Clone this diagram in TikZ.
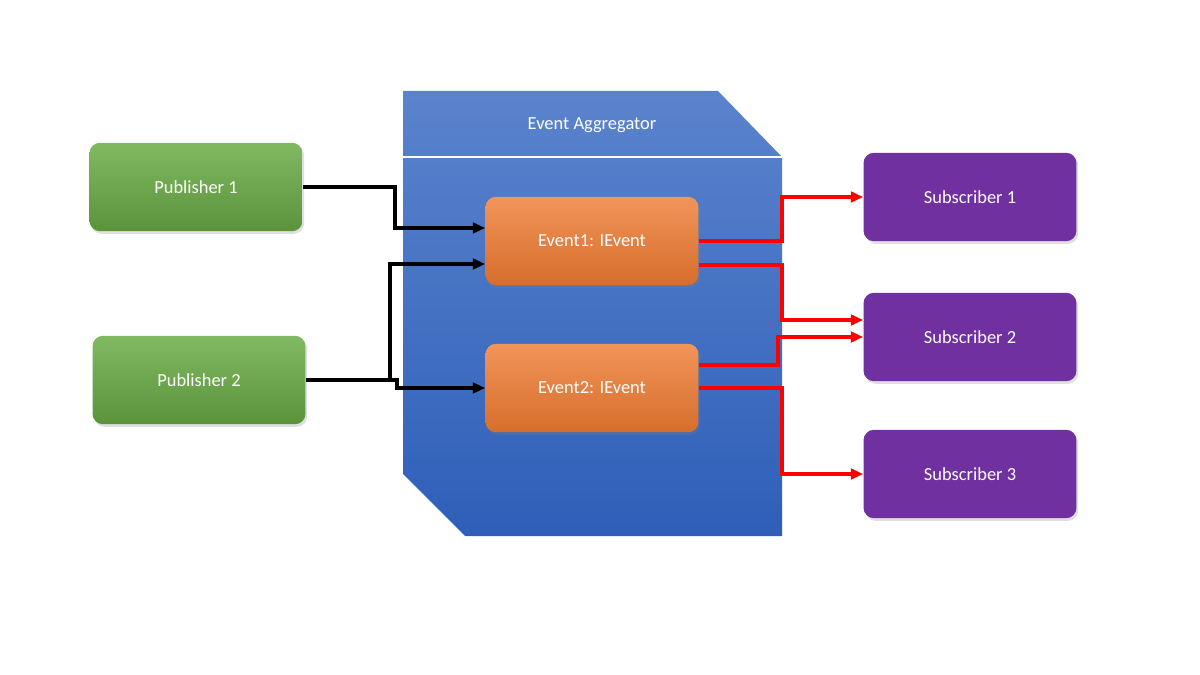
\documentclass[tikz,border=0pt]{standalone}
\usepackage{fontspec}
\setmainfont{Carlito}
\usetikzlibrary{arrows.meta,calc,shadows}
\definecolor{pubgreen}{HTML}{6AAD45}
\definecolor{evorange}{HTML}{EE7A30}
\definecolor{subpurple}{HTML}{7030A0}
\definecolor{aggtop}{HTML}{5B83CD}
\definecolor{aggbot}{HTML}{2E5FB8}
\begin{document}
\begin{tikzpicture}[
	x=0.02cm,
	y=-0.02cm,
	line join=miter,
	>={Triangle[length=7pt,width=6pt]},
	box/.style={rounded corners=6pt, minimum width=4.26cm, minimum height=1.77cm,
		text=white, font=\fontsize{10.5}{12}\selectfont,
		drop shadow={opacity=0.25, shadow xshift=1pt, shadow yshift=-1.5pt}},
	pub/.style={box, top color=pubgreen!85!white, bottom color=pubgreen!85!black},
	ev/.style={box, top color=evorange!80!white, bottom color=evorange!90!black},
	sub/.style={box, fill=subpurple},
	pubarrow/.style={->, line width=1.8pt, black},
	subarrow/.style={->, line width=1.8pt, red},
	]
\useasboundingbox (0,0) rectangle (1200,675);
% aggregator
\shade[top color=aggtop, bottom color=aggbot]
	(403,91) -- (718,91) -- (782,157) -- (782,536) -- (465,536) -- (403,474) -- cycle;
\draw[white, line width=0.8pt] (403,157) -- (782,157);
\node[text=white, font=\fontsize{10.5}{12}\selectfont] (title) at (592,125) {Event Aggregator};
% boxes
\node[pub] (p1) at (196,187) {Publisher 1};
\node[pub] (p2) at (199,380) {Publisher 2};
\node[ev] (e1) at (592,241) {Event1: IEvent};
\node[ev] (e2) at (592,388) {Event2: IEvent};
\node[sub] (s1) at (970,197) {Subscriber 1};
\node[sub] (s2) at (970,337) {Subscriber 2};
\node[sub] (s3) at (970,474) {Subscriber 3};
% publishers to events
\draw[pubarrow] (p1.east) -| (395,228) -- ($(e1.west)+(0,-13)$);
\draw[pubarrow] (p2.east) -- (390,380) |- ($(e1.west)+(0,23)$);
\draw[pubarrow] (p2.east) -- (397,380) |- (e2.west);
% events to subscribers
\draw[subarrow] (e1.east) -- (782,241) |- (s1.west);
\draw[subarrow] ($(e1.east)+(0,24)$) -- (782,265) |- ($(s2.west)+(0,-17)$);
\draw[subarrow] ($(e2.east)+(0,-23)$) -- (778,365) |- (s2.west);
\draw[subarrow] (e2.east) -- (782,388) |- (s3.west);
\end{tikzpicture}
\end{document}
